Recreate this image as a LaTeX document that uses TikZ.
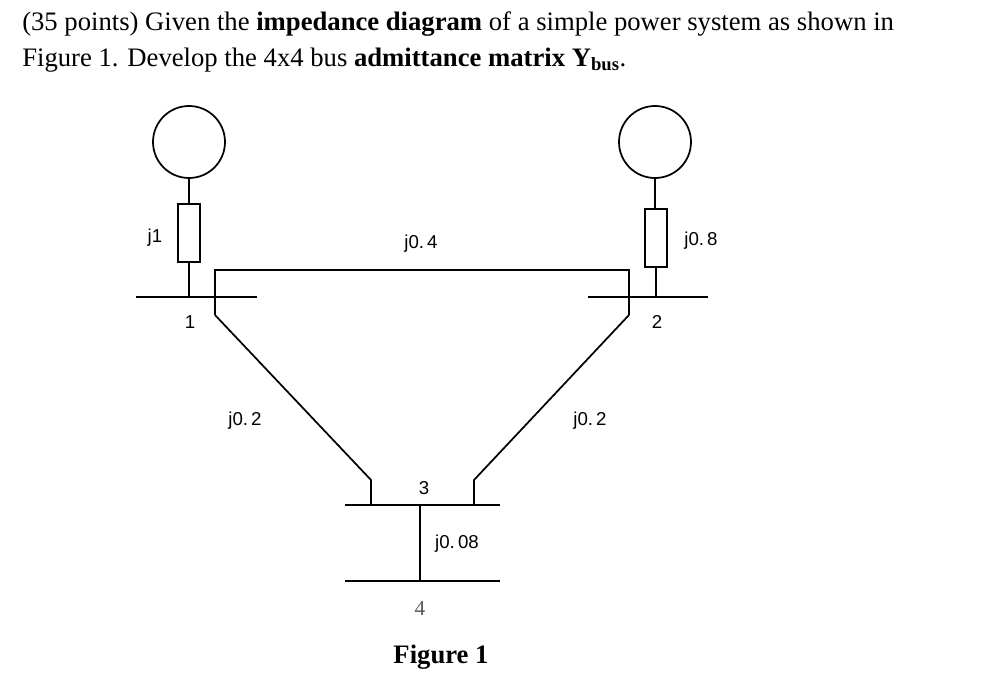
\documentclass[tikz,border=0pt]{standalone}
\usepackage{fontspec}
\setmainfont{Liberation Serif}
\newfontfamily\lblfont{Liberation Sans}
\usetikzlibrary{positioning, calc}

\begin{document}
\begin{tikzpicture}[
      x=0.75pt, y=-0.75pt,
      wire/.style={line width=1.3pt, black},
      gen/.style={draw, line width=1.3pt, circle, minimum size=54pt, inner sep=0pt},
      imp/.style={draw, line width=1.3pt, minimum width=16pt, minimum height=44pt, inner sep=0pt},
      lbl/.style={font=\lblfont\fontsize{14}{16}\selectfont},
      txt/.style={font=\fontsize{20}{24}\selectfont, anchor=base west, inner sep=0pt},
    ]
    \useasboundingbox (0,0) rectangle (990,682);

    % Question text
    \node[txt] (q1) at (22,30) {(35 points) Given the \textbf{impedance diagram} of a simple power system as shown in};
    \node[txt] (q2) at (22,66) {Figure 1. Develop the 4x4 bus \textbf{admittance matrix Y\textsubscript{bus}}.};

    % Generators and their impedances
    \node[gen] (g1) at (189,142) {};
    \node[gen] (g2) at (655,142) {};
    \node[imp] (z1) at (189,233) {};
    \node[imp] (z2) at (656,238) {};

    % Buses
    \coordinate (b1w) at (136,297); \coordinate (b1e) at (257,297);
    \coordinate (b2w) at (588,297); \coordinate (b2e) at (708,297);
    \coordinate (b3w) at (345,505); \coordinate (b3e) at (500,505);
    \coordinate (b4w) at (345,581); \coordinate (b4e) at (500,581);
    \draw[wire] (b1w) -- (b1e);
    \draw[wire] (b2w) -- (b2e);
    \draw[wire] (b3w) -- (b3e);
    \draw[wire] (b4w) -- (b4e);

    % Generator branches
    \draw[wire] (g1.south) -- (z1.north);
    \draw[wire] (z1.south) -- (z1.south |- b1w);
    \draw[wire] (g2.south) -- (z2.north -| g2.south);
    \draw[wire] (z2.south) -- (z2.south |- b2w);

    % Line 1-2
    \coordinate (l12a) at (215,315); \coordinate (l12b) at (629,315);
    \draw[wire] (l12a) -- (215,270) -- (629,270) -- (l12b);

    % Lines 1-3 and 2-3
    \coordinate (l13) at (371,505); \coordinate (l23) at (474,505);
    \draw[wire] (l12a) -- (371,480) -- (l13);
    \draw[wire] (l12b) -- (474,480) -- (l23);

    % Line 3-4
    \coordinate (l34a) at (420,505); \coordinate (l34b) at (420,581);
    \draw[wire] (l34a) -- (l34b);

    % Labels
    \node[lbl] (tz1)  at (155,238) {j1};
    \node[lbl] (tz2)  at (701,241) {j0.\,8};
    \node[lbl] (tz12) at (421,244) {j0.\,4};
    \node[lbl] (tz13) at (245,421) {j0.\,2};
    \node[lbl] (tz23) at (590,421) {j0.\,2};
    \node[lbl] (tz34) at (457,544) {j0.\,08};
    \node[lbl] (n1)   at (190,322) {1};
    \node[lbl] (n2)   at (657,322) {2};
    \node[lbl] (n3)   at (424,488) {3};
    \node[font=\fontsize{16}{18}\selectfont, text=black!65] (n4) at (420,608) {4};
    \node[font=\fontsize{20}{24}\selectfont\bfseries] (fig) at (441,657) {Figure 1};
\end{tikzpicture}
\end{document}
